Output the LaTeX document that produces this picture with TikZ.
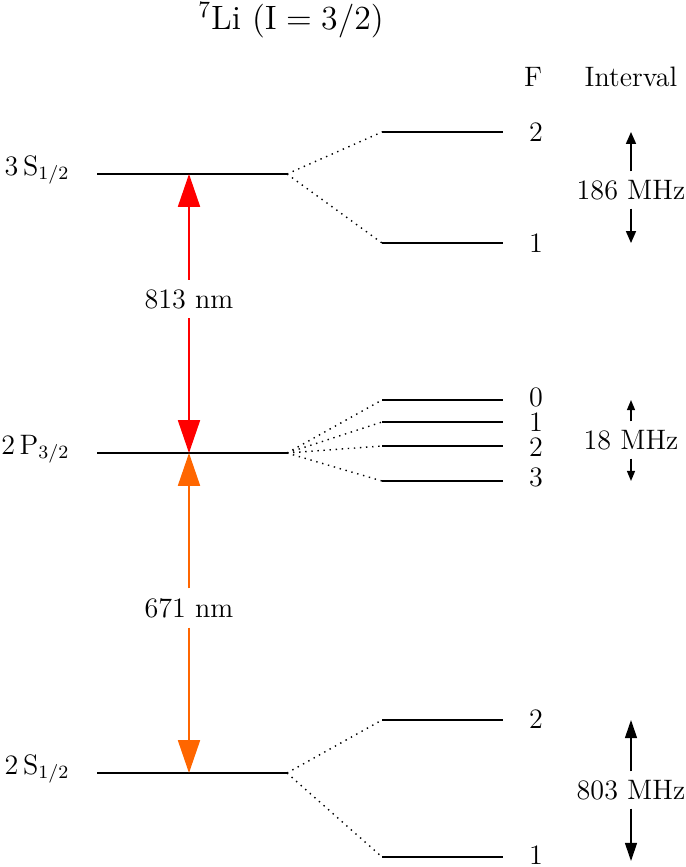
\documentclass[tikz,border=0pt]{standalone}
\usepackage{amsmath}
\usepackage{xcolor}
\usepackage{tikz}
\usetikzlibrary{
  arrows.meta,
  calc
}
\definecolor{redline}{HTML}{FF0000}
\definecolor{orangeline}{HTML}{FF6600}
\newcommand{\lvlfont}{\fontsize{12}{14}\selectfont}

\begin{document}
\begin{tikzpicture}[
  x=0.15mm, y=-0.15mm,
  level/.style={line width=1pt},
  split/.style={dotted, line width=0.6pt},
  statelbl/.style={anchor=base east, inner sep=0pt, font=\lvlfont},
  flbl/.style={font=\lvlfont},
  titlelbl/.style={font=\fontsize{14.4}{17}\selectfont},
  wavelbl/.style={inner sep=4pt, font=\lvlfont},
  gaplbl/.style={inner sep=3.5pt, font=\lvlfont},
  transition/.style={-{Triangle[width=9.4pt, length=14pt]}, line width=0.7pt},
  gaparrow/.style={line width=0.6pt},
]
  \useasboundingbox (0,0) rectangle (685,867);

  % Title and column heads
  \node[titlelbl] (title) at (291,20) {$^7$Li $(\mathrm{I}=3/2)$};
  \node[flbl] (fhead) at (533,77) {F};
  \node[flbl] (ihead) at (631,77) {Interval};

  % 3S_1/2
  \coordinate (s3a) at (97,174);
  \coordinate (s3b) at (287,174);
  \draw[level] (s3a) -- (s3b);
  \node[statelbl] (s3lbl) at (70,175) {$3\,\mathrm{S}_{1/2}$};
  \coordinate (s3f2) at (382,132);
  \coordinate (s3f1) at (382,243);
  \draw[level] (s3f2) -- ++(121,0);
  \draw[level] (s3f1) -- ++(121,0);
  \draw[split] (s3b) -- (s3f2);
  \draw[split] (s3b) -- (s3f1);
  \node[flbl] (s3f2lbl) at (536,132) {2};
  \node[flbl] (s3f1lbl) at (536,243) {1};

  % 2P_3/2
  \coordinate (p3a) at (97,453);
  \coordinate (p3b) at (287,453);
  \draw[level] (p3a) -- (p3b);
  \node[statelbl] (p3lbl) at (70,454) {$2\,\mathrm{P}_{3/2}$};
  \coordinate (p3f0) at (382,400);
  \coordinate (p3f1) at (382,422);
  \coordinate (p3f2) at (382,446);
  \coordinate (p3f3) at (382,481);
  \draw[level] (p3f0) -- ++(121,0);
  \draw[level] (p3f1) -- ++(121,0);
  \draw[level] (p3f2) -- ++(121,0);
  \draw[level] (p3f3) -- ++(121,0);
  \draw[split] (p3b) -- (p3f0);
  \draw[split] (p3b) -- (p3f1);
  \draw[split] (p3b) -- (p3f2);
  \draw[split] (p3b) -- (p3f3);
  \node[flbl] (p3f0lbl) at (536,397) {0};
  \node[flbl] (p3f1lbl) at (536,422) {1};
  \node[flbl] (p3f2lbl) at (536,447) {2};
  \node[flbl] (p3f3lbl) at (536,477) {3};

  % 2S_1/2
  \coordinate (s2a) at (97,773);
  \coordinate (s2b) at (287,773);
  \draw[level] (s2a) -- (s2b);
  \node[statelbl] (s2lbl) at (70,774) {$2\,\mathrm{S}_{1/2}$};
  \coordinate (s2f2) at (382,720);
  \coordinate (s2f1) at (382,857);
  \draw[level] (s2f2) -- ++(121,0);
  \draw[level] (s2f1) -- ++(121,0);
  \draw[split] (s2b) -- (s2f2);
  \draw[split] (s2b) -- (s2f1);
  \node[flbl] (s2f2lbl) at (536,719) {2};
  \node[flbl] (s2f1lbl) at (536,855) {1};

  % Optical transitions
  \coordinate (s3c) at (189,174);
  \coordinate (p3c) at (189,453);
  \coordinate (s2c) at (189,773);
  \node[wavelbl] (w813) at (189,299) {813 nm};
  \draw[transition, redline] (w813) -- (s3c);
  \draw[transition, redline] (w813) -- (p3c);
  \node[wavelbl] (w671) at (189,608) {671 nm};
  \draw[transition, orangeline] (w671) -- (p3c);
  \draw[transition, orangeline] (w671) -- (s2c);

  % Hyperfine intervals
  \node[gaplbl] (i186) at (631,190) {186 MHz};
  \draw[gaparrow, -{Triangle[width=4.3pt, length=5.1pt]}]
    (i186.north) -- (i186.north |- s3f2);
  \draw[gaparrow, -{Triangle[width=4.3pt, length=5.1pt]}]
    (i186.south) -- (i186.south |- s3f1);
  \node[gaplbl] (i18) at (631,440) {18 MHz};
  \draw[gaparrow, -{Triangle[width=3.4pt, length=4.3pt]}]
    (i18.north) -- (i18.north |- p3f0);
  \draw[gaparrow, -{Triangle[width=3.4pt, length=4.3pt]}]
    (i18.south) -- (i18.south |- p3f3);
  \node[gaplbl] (i803) at (631,790) {803 MHz};
  \draw[gaparrow, -{Triangle[width=5.1pt, length=7.7pt]}]
    (i803.north) -- (i803.north |- s2f2);
  \draw[gaparrow, -{Triangle[width=5.1pt, length=7.7pt]}]
    (i803.south) -- ($(i803.south |- s2f1)+(0,4)$);

\end{tikzpicture}
\end{document}
